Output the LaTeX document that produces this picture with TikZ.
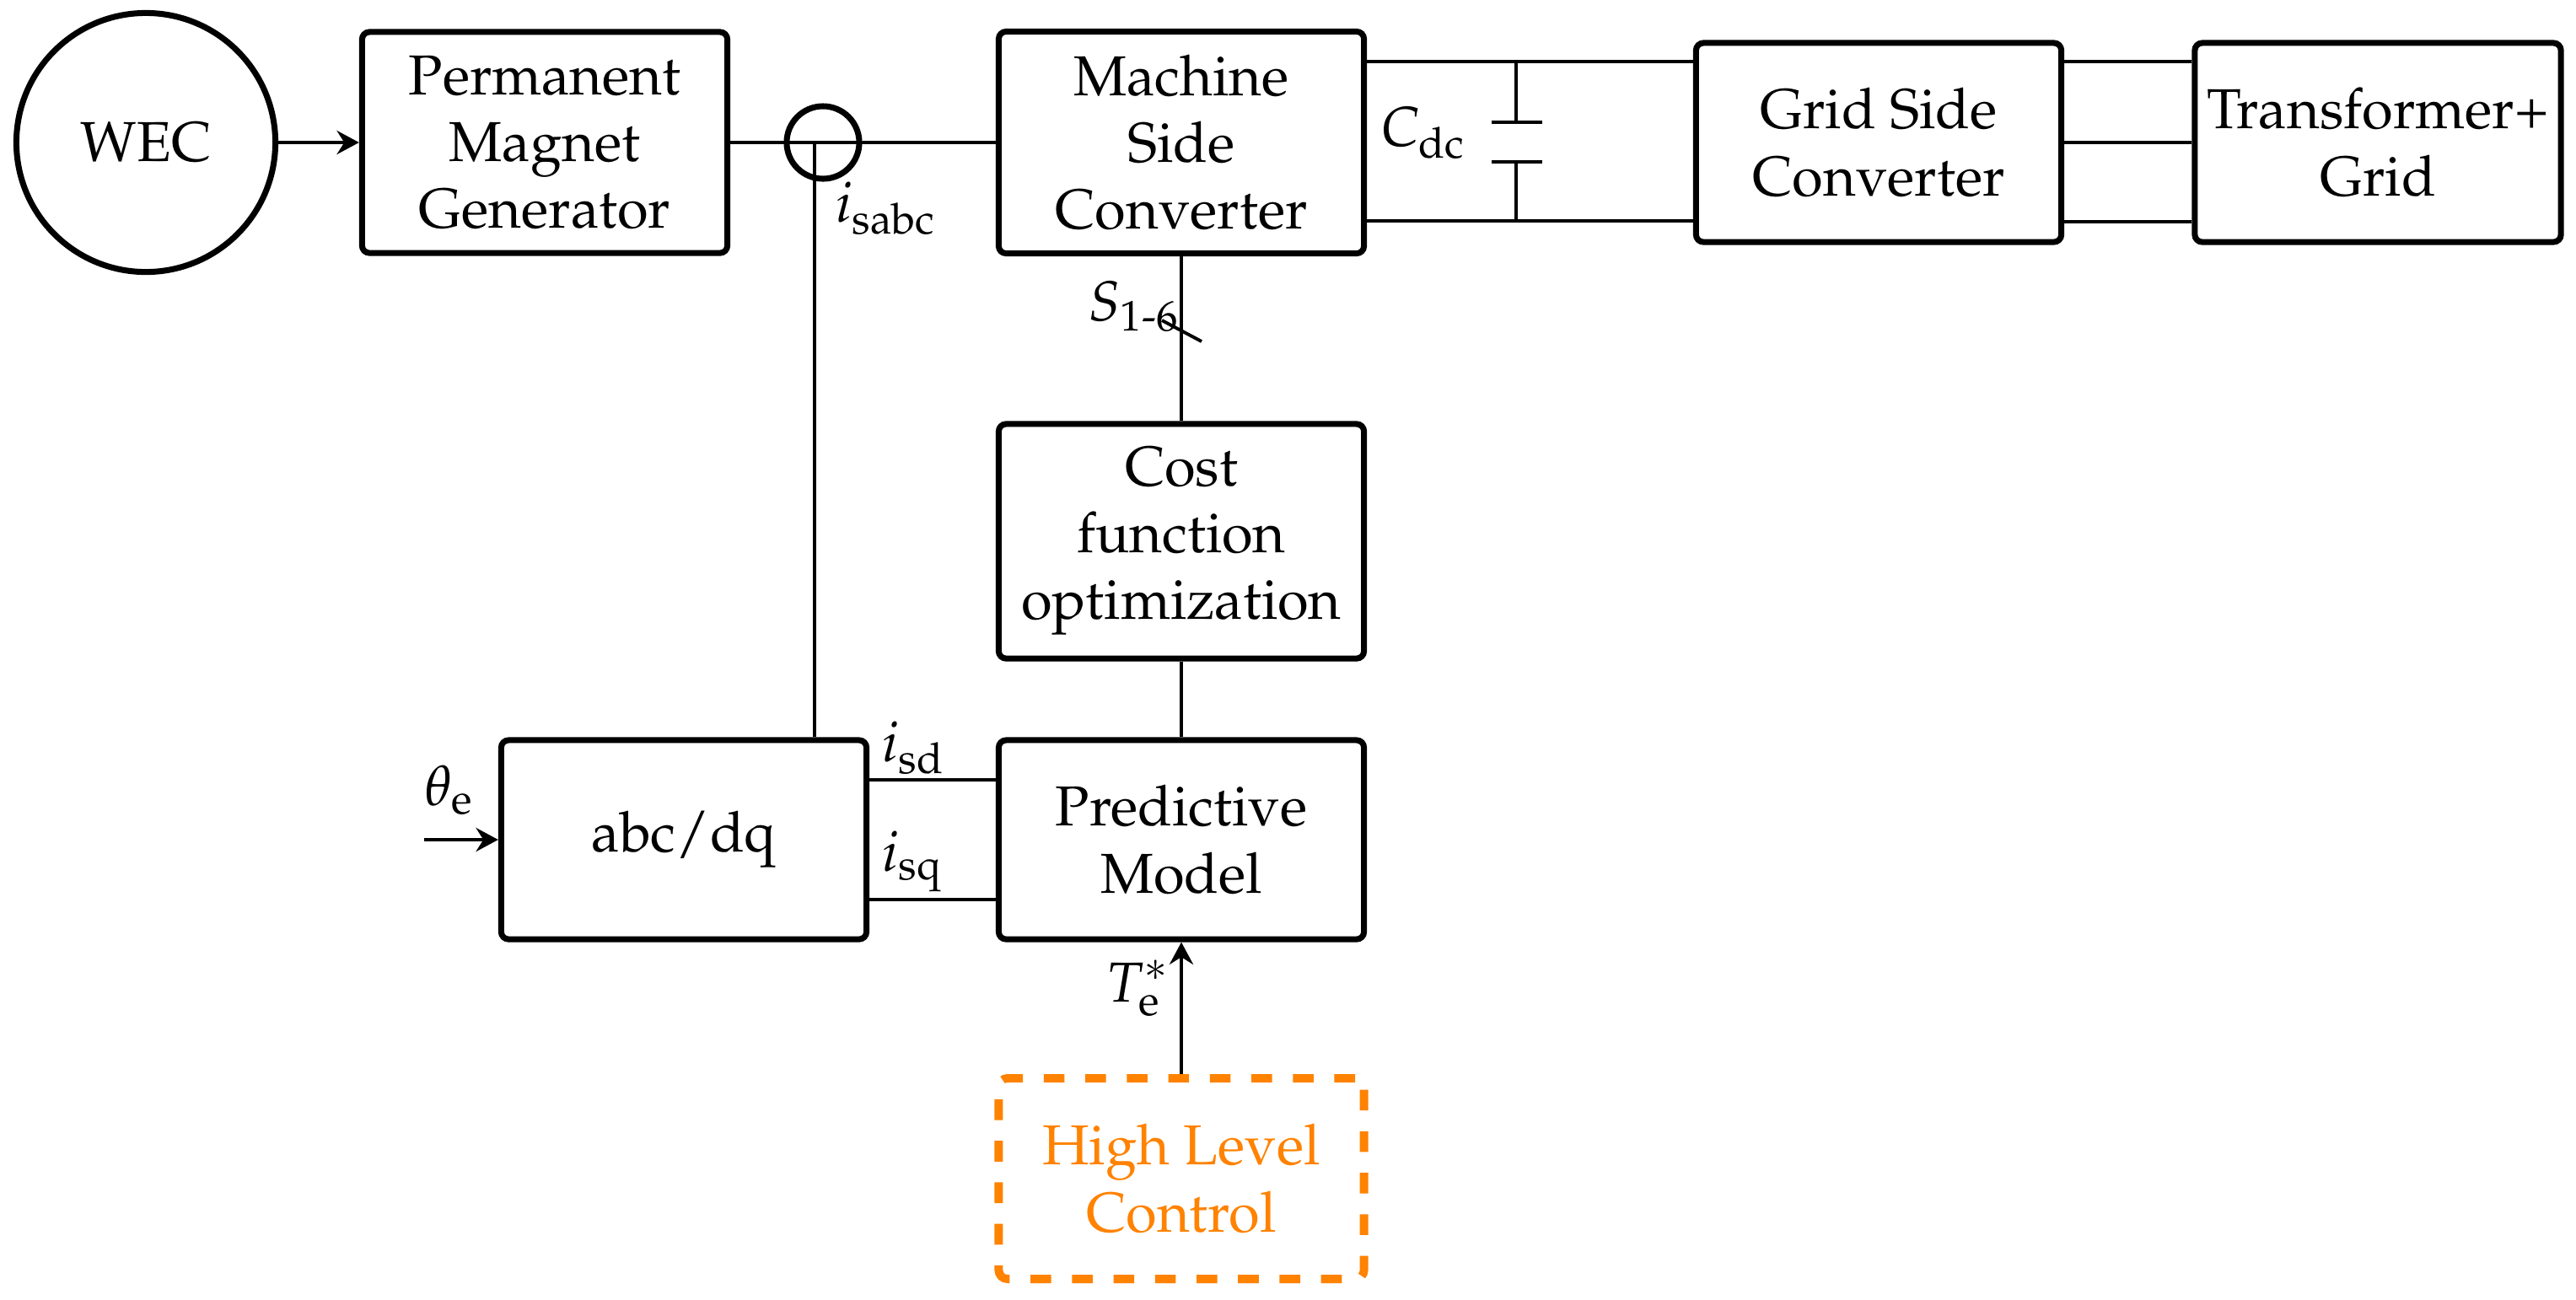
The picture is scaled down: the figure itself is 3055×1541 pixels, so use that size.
\documentclass[tikz,border=0pt]{standalone}
\usepackage[T1]{fontenc}
\usepackage{amsmath}
\usepackage{mathpazo}
\usetikzlibrary{arrows.meta}
\definecolor{hlorange}{RGB}{255,130,0}
\begin{document}
\begin{tikzpicture}[x=0.01cm,y=-0.01cm,
  font=\fontsize{19}{22.5}\selectfont,
  blk/.style={draw, line width=2pt, rounded corners=2.5pt, align=center, inner sep=0pt,
              minimum width=4.33cm},
  rnd/.style={draw, circle, line width=2pt, inner sep=0pt},
  wire/.style={line width=1.1pt},
  arr/.style={wire, -{Stealth[length=7.5pt,width=8pt,inset=2.5pt]}},
  lab/.style={anchor=base west, inner sep=0pt},
  hlbox/.style={draw=hlorange, text=hlorange, line width=2.8pt, dash pattern=on 7pt off 7pt,
                rounded corners=3pt, align=center, inner sep=0pt, minimum width=4.33cm}
  ]
\useasboundingbox (0,0) rectangle (3055,1541);

% blocks
\node[rnd, minimum size=3.07cm] (wec) at (173,169) {WEC};
\node[blk, minimum height=2.62cm] (pmg) at (646,169) {Permanent\\Magnet\\Generator};
\node[blk, minimum height=2.63cm] (msc) at (1401,169) {Machine\\Side\\Converter};
\node[blk, minimum height=2.36cm] (gsc) at (2228,169) {Grid Side\\Converter};
\node[blk, minimum height=2.36cm, minimum width=4.34cm] (tg) at (2820,169) {Transformer+\\Grid};
\node[blk, minimum height=2.78cm] (cfo) at (1401,642) {Cost\\function\\optimization};
\node[blk, minimum height=2.36cm] (pm) at (1401,996) {Predictive\\Model};
\node[blk, minimum height=2.36cm] (abc) at (811,996) {abc/dq};
\node[hlbox, minimum height=2.38cm] (hlc) at (1401,1398) {High Level\\Control};

% current sensor
\node[rnd, minimum size=0.86cm] (sens) at (976,169) {};
\coordinate (tap) at (966,169);

% connectors
\draw[arr] (wec.east) -- (pmg.west);
\draw[wire] (pmg.east) -- (msc.west);
\draw[wire] (tap) -- (tap |- abc.north);

% DC link
\coordinate (dct) at ([yshift=0.96cm]msc.east);
\coordinate (dcb) at ([yshift=-0.93cm]msc.east);
\draw[wire] (dct) -- (dct -| gsc.west);
\draw[wire] (dcb) -- (dcb -| gsc.west);
\coordinate (cap) at (1798,169);
\draw[wire] (cap |- dct) -- (1798,145);
\draw[wire] (1769,145) -- (1829,145);
\draw[wire] (1769,192) -- (1829,192);
\draw[wire] (1798,192) -- (cap |- dcb);

% GSC to grid
\foreach \dy in {0.96,0,-0.94}
  \draw[wire] ([yshift=\dy cm]gsc.east) -- ([yshift=\dy cm]gsc.east -| tg.west);

% control path
\draw[wire] (msc.south) -- (cfo.north);
\coordinate (sl) at (1401,392);
\draw[wire] ([shift={(-23,-12)}]sl) -- ([shift={(24,13)}]sl);
\draw[wire] (cfo.south) -- (pm.north);
\draw[arr] (hlc.north) -- (pm.south);
\draw[wire] ([yshift=0.71cm]abc.east) -- ([yshift=0.71cm]abc.east -| pm.west);
\draw[wire] ([yshift=-0.71cm]abc.east) -- ([yshift=-0.71cm]abc.east -| pm.west);
\coordinate (thin) at (503,996);
\draw[arr] (thin) -- (abc.west);

% labels
\node[lab] (lisabc) at (990,263) {$i_{\mathrm{sabc}}$};
\node[lab] (lcdc) at (1637,173) {$C_{\mathrm{dc}}$};
\node[lab] (ls) at (1290,380) {$S_{\text{1-6}}$};
\node[lab] (lisd) at (1045,903) {$i_{\mathrm{sd}}$};
\node[lab] (lisq) at (1045,1033) {$i_{\mathrm{sq}}$};
\node[lab] (lth) at (503,955) {$\theta_{\mathrm{e}}$};
\node[lab] (lte) at (1311,1188) {$T_{\mathrm{e}}^{*}$};
\end{tikzpicture}
\end{document}
